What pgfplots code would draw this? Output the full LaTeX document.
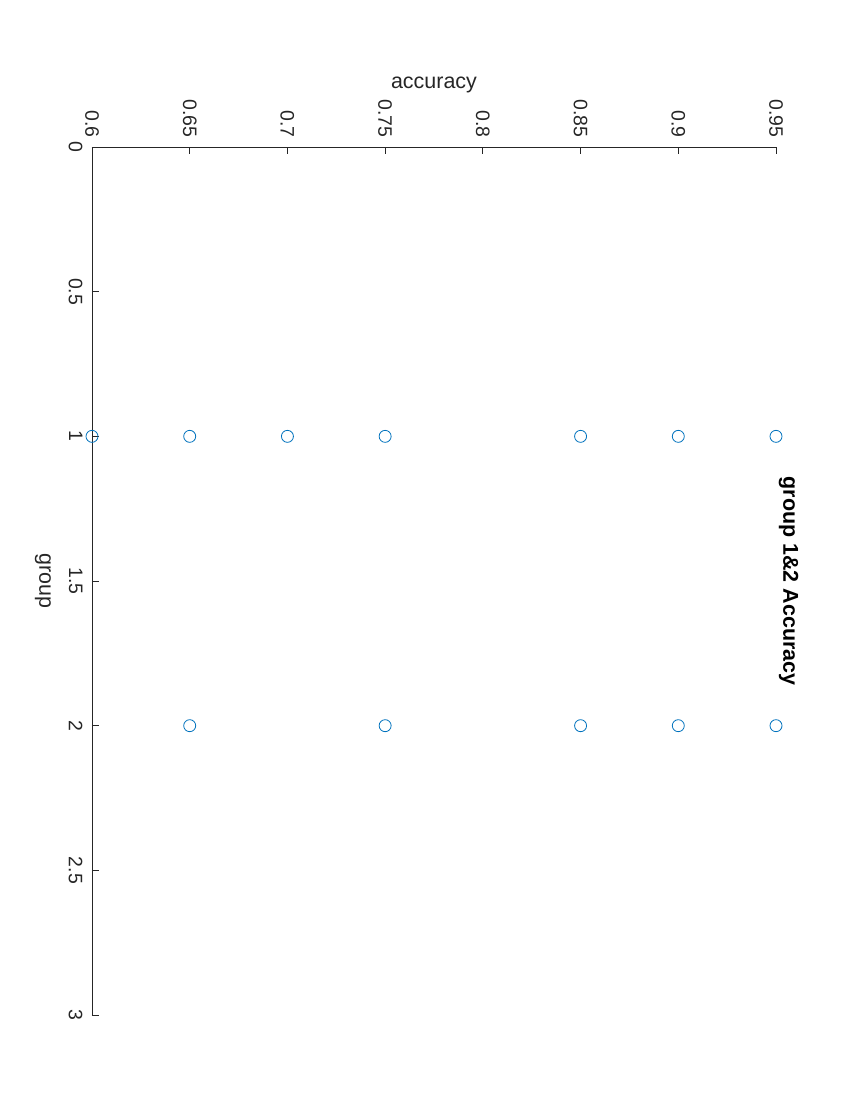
\documentclass[border=0pt]{standalone}
\usepackage{fontspec}
\setmainfont{Liberation Sans}
\usepackage{pgfplots}
\pgfplotsset{compat=1.18}
\definecolor{mblue}{rgb}{0,0.447,0.741}
\definecolor{axgray}{rgb}{0.15,0.15,0.15}

\begin{document}
\begin{tikzpicture}
\begin{axis}[
  at={(0,0)}, anchor=north west,
  scale only axis, width=513pt, height=651pt,
  xmin=0.6, xmax=0.95, ymin=0, ymax=3,
  y dir=reverse,
  axis x line*=top, axis y line*=left,
  axis line style={line width=0.6pt, axgray, -},
  tick align=inside, major tick length=5pt,
  tick style={line width=0.6pt, axgray},
  xtick={0.6,0.65,0.7,0.75,0.8,0.85,0.9,0.95},
  xticklabels={0.6,0.65,0.7,0.75,0.8,0.85,0.9,0.95},
  ytick={0,0.5,1,1.5,2,2.5,3},
  yticklabels={0,0.5,1,1.5,2,2.5,3},
  xticklabel style={rotate=-90, anchor=east, inner xsep=7pt, inner ysep=0pt,
    font=\fontsize{14.6}{17}\selectfont, text=axgray},
  yticklabel style={rotate=-90, anchor=north, inner ysep=7pt, inner xsep=0pt,
    font=\fontsize{14.6}{17}\selectfont, text=axgray},
  every axis x label/.style={at={(ticklabel cs:0.5)}, anchor=south,
    font=\fontsize{16.1}{19}\selectfont, text=axgray, inner sep=0pt, yshift=-2pt},
  every axis y label/.style={at={(ticklabel cs:0.5)}, rotate=-90, anchor=north,
    font=\fontsize{16.1}{19}\selectfont, text=axgray, inner sep=0pt, yshift=-6pt},
  every axis title/.style={at={(axis description cs:1,0.5)}, rotate=-90, anchor=south,
    font=\bfseries\fontsize{16.1}{19}\selectfont, inner sep=2pt},
  xlabel={accuracy},
  ylabel={group},
  title={group 1\&2 Accuracy},
  clip=false,
]
\addplot[only marks, mark=o, mark size=4.5pt, color=mblue, mark options={line width=0.6pt}]
  coordinates {
  (0.60,1) (0.65,1) (0.70,1) (0.75,1) (0.85,1) (0.90,1) (0.95,1)
};
\addplot[only marks, mark=o, mark size=4.5pt, color=mblue, mark options={line width=0.6pt}]
  coordinates {
  (0.65,2) (0.75,2) (0.85,2) (0.90,2) (0.95,2)
};
\end{axis}
\pgfresetboundingbox
\path[use as bounding box] (-69pt,110.25pt) rectangle (561pt,-729.75pt);
\end{tikzpicture}
\end{document}
